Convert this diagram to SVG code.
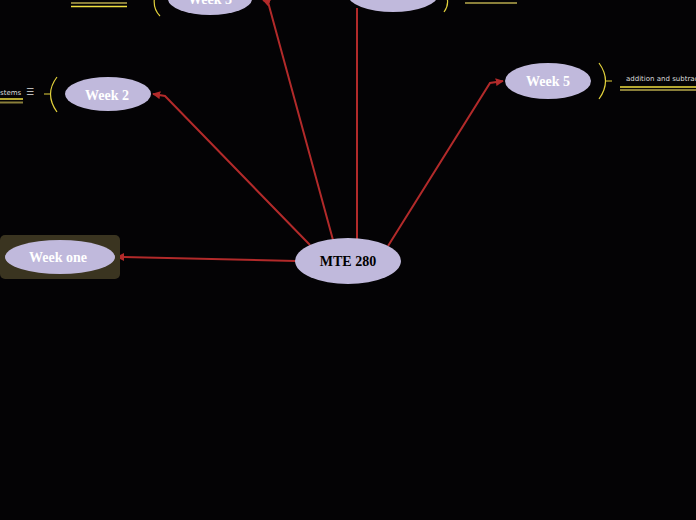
<svg xmlns="http://www.w3.org/2000/svg" width="696" height="520" viewBox="0 0 696 520">
<defs>
<style>
.n{fill:#c0b9dc}
.t{font-family:"Liberation Serif",serif;font-weight:bold;font-size:14px;fill:#fff;text-anchor:middle}
.c{fill:none;stroke:#b22a2a;stroke-width:2}
.b{fill:none;stroke:#e3d23c;stroke-width:1.2}
.y{stroke:#f0e040;stroke-width:1.5}
.o{stroke:#8a7f3a;stroke-width:2}
.s{font-family:"DejaVu Sans",sans-serif;font-size:7px;fill:#ddd}
</style>
<marker id="a" viewBox="0 0 10 10" refX="9" refY="5" markerWidth="4" markerHeight="4" orient="auto"><path d="M0,0L10,5L0,10z" fill="#b22a2a"/></marker>
</defs>
<rect width="696" height="520" fill="#040305"/>
<g id="connectors">
<path class="c" d="M333,240L268,2L263,0" marker-end="url(#a)"/>
<path class="c" d="M357,240L357,8"/>
<path class="c" d="M310,245L165,96L153,94" marker-end="url(#a)"/>
<path class="c" d="M388,246L490,83L503,81" marker-end="url(#a)"/>
<path class="c" d="M296,261L123,257L117,257" marker-end="url(#a)"/>
</g>
<g id="center"><ellipse class="n" cx="348" cy="261" rx="53" ry="23"/><text class="t" x="348" y="266" style="fill:#000">MTE 280</text></g>
<g id="week1"><rect x="0" y="235" width="120" height="44" rx="5" fill="#3a3420"/><ellipse class="n" cx="60" cy="257" rx="55" ry="17"/><text class="t" x="58" y="262">Week one</text></g>
<g id="week2"><ellipse class="n" cx="108" cy="94" rx="43" ry="17"/><text class="t" x="107" y="100">Week 2</text>
<path class="b" d="M57,77Q44,94 57,112M44,94H50"/>
<text class="s" x="0" y="95">stems</text><text class="s" x="26" y="95" style="font-size:9px">☰</text>
<line class="y" x1="0" y1="99" x2="23" y2="99"/><line class="o" x1="0" y1="102.5" x2="23" y2="102.5"/></g>
<g id="week3"><ellipse class="n" cx="210" cy="-1" rx="42" ry="16"/><text class="t" x="210" y="4">Week 3</text>
<path class="b" d="M155,-5Q152,8 160,16"/>
<line class="o" x1="71" y1="3" x2="127" y2="3"/><line class="y" x1="71" y1="6.5" x2="127" y2="6.5"/></g>
<g id="week4"><ellipse class="n" cx="393" cy="-5" rx="45" ry="17"/><text class="t" x="393" y="-2">Week 4</text>
<path class="b" d="M446,-5Q450,4 444,12"/>
<line class="o" x1="465" y1="3" x2="517" y2="3"/></g>
<g id="week5"><ellipse class="n" cx="548" cy="81" rx="43" ry="18"/><text class="t" x="548" y="86">Week 5</text>
<path class="b" d="M599,63Q612,81 599,99M606,81H612"/>
<text class="s" x="626" y="81">addition and subtraction</text>
<line class="y" x1="620" y1="87" x2="696" y2="87"/><line class="o" x1="620" y1="90" x2="696" y2="90"/></g>
</svg>
